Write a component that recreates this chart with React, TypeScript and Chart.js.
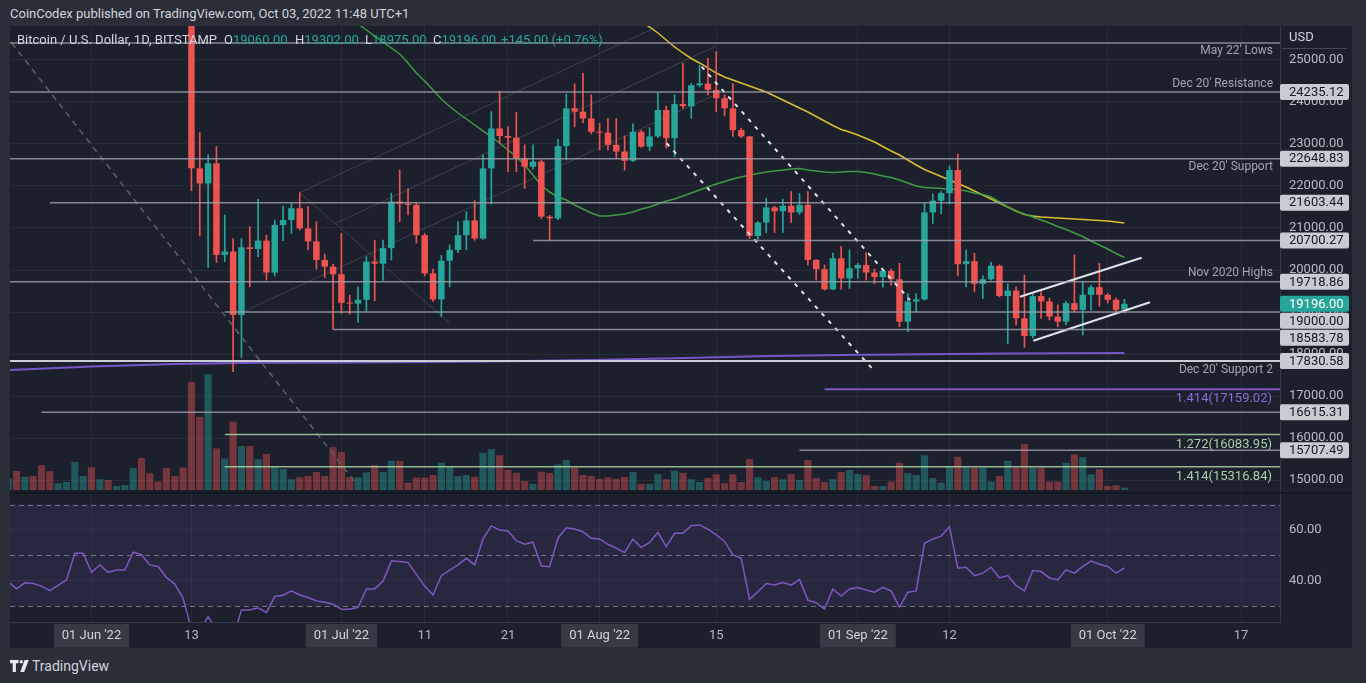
import React, { useEffect, useRef } from 'react';
import { Chart, registerables } from 'chart.js';

Chart.register(...registerables);

// ---------- DATA ----------
// Day index 0 = 01 Jun 2022. First bar = 22 May 2022 (day -10).
const FIRST_DAY = -10;

const OPEN = [
  29190, 30290, 29100, 29650, 29550, 29200, 28600, 28990, 29450, 31730,
  31790, 29800, 30450, 29700, 29860, 29900, 31370, 31130, 30200, 30100,
  29100, 28400, 26600, 22420, 22060, 22540, 20360, 20440, 18930, 20540,
  20500, 20700, 19940, 21070, 21190, 21470, 20990, 20680, 20240, 20080,
  19900, 19220, 19200, 19290, 20200, 20150, 20520, 21630, 21580, 21550,
  20830, 19920, 19300, 20220, 20480, 20830, 21180, 20750, 22420, 23370,
  23190, 23150, 22660, 22460, 22580, 21270, 21230, 22950, 23850, 23770,
  23610, 23290, 23270, 22980, 22820, 22600, 23290, 22940, 23180, 23810,
  23140, 23950, 23900, 24400, 24440, 24290, 24090, 23850, 23330, 23180,
  20810, 21130, 21490, 21400, 21530, 21370, 21550, 20240, 20020, 19540,
  20280, 19800, 20040, 20120, 19940, 19830, 19980, 19780, 18770, 19250,
  19300, 21370, 21650, 21830, 22380, 20140, 20210, 19670, 19780, 20100,
  19380, 19510, 18850, 18430, 19380, 19250, 18890, 18770, 19210, 19050,
  19410, 19590, 19410, 19290, 19060,
];
const HIGH = [
  30480, 30650, 29820, 30200, 29860, 29380, 29030, 29500, 31940, 32380,
  31960, 30630, 30660, 29940, 30160, 31750, 31560, 31330, 30650, 30390,
  29440, 28560, 26880, 23270, 22740, 22940, 21310, 20750, 20750, 21030,
  21680, 20830, 21190, 21520, 21590, 21840, 21510, 21150, 20380, 20140,
  20870, 19400, 19600, 20320, 20710, 20710, 21830, 22380, 21940, 21600,
  20870, 20020, 20350, 20600, 21150, 21390, 21650, 22740, 23770, 24260,
  23410, 23750, 22980, 22980, 22620, 21300, 23110, 24190, 24430, 24680,
  24170, 23490, 23610, 23610, 23190, 23480, 23330, 23390, 24210, 23900,
  24170, 24920, 24440, 24880, 25040, 25200, 24170, 24440, 23380, 23180,
  21150, 21710, 21520, 21690, 21870, 21820, 21870, 20250, 20120, 20400,
  20560, 20480, 20160, 20410, 20020, 20000, 20020, 20160, 19440, 19440,
  21590, 21810, 21870, 22480, 22760, 20480, 20400, 19860, 20180, 20120,
  19670, 19600, 19880, 19440, 19480, 19330, 19170, 19250, 20360, 19720,
  19640, 20160, 19440, 19340, 19302,
];
const LOW = [
  29000, 28870, 28640, 29330, 28020, 28270, 28530, 28840, 29300, 31260,
  29350, 29600, 29310, 29480, 29520, 29890, 29220, 29880, 29960, 28880,
  28160, 26560, 21890, 20810, 20060, 20180, 20200, 17580, 17920, 19600,
  20320, 19760, 19860, 20700, 20870, 20950, 20480, 20020, 19820, 18584,
  18970, 18950, 18750, 19030, 19270, 19750, 20240, 21150, 21310, 20640,
  19860, 19250, 18890, 19600, 20410, 20480, 20710, 20730, 21570, 23020,
  22340, 22340, 21940, 22400, 21230, 20700, 21200, 22620, 23410, 23510,
  23240, 22860, 22860, 22660, 22380, 22580, 22920, 22840, 23150, 22900,
  22700, 23850, 23610, 24360, 24170, 23770, 23670, 23180, 23150, 20750,
  20730, 20890, 20890, 20890, 21130, 21320, 20120, 19760, 19520, 19530,
  19540, 19560, 19800, 19760, 19670, 19590, 19640, 18650, 18530, 19010,
  19280, 21110, 21340, 21570, 19860, 19600, 19480, 19320, 19760, 19360,
  18250, 18690, 18160, 18380, 18850, 18810, 18650, 18690, 19010, 18450,
  19050, 19140, 19210, 18970, 18975,
];
const CLOSE = [
  30290, 29100, 29650, 29550, 29200, 28600, 28990, 29450, 31730, 31790,
  29800, 30450, 29700, 29860, 29900, 31370, 31130, 30200, 30100, 29100,
  28400, 26600, 22420, 22060, 22540, 20360, 20440, 18930, 20540, 20500,
  20700, 19940, 21070, 21190, 21470, 20990, 20680, 20240, 20080, 19900,
  19220, 19200, 19290, 20200, 20150, 20520, 21630, 21580, 21550, 20830,
  19920, 19300, 20220, 20480, 20830, 21180, 20750, 22420, 23370, 23190,
  23150, 22660, 22460, 22580, 21270, 21230, 22950, 23850, 23770, 23610,
  23290, 23270, 22980, 22820, 22600, 23290, 22940, 23180, 23810, 23140,
  23950, 23900, 24400, 24440, 24290, 24090, 23850, 23330, 23180, 20810,
  21130, 21490, 21400, 21530, 21370, 21550, 20240, 20020, 19540, 20280,
  19800, 20040, 20120, 19940, 19830, 19980, 19780, 18770, 19250, 19300,
  21370, 21650, 21830, 22380, 20140, 20210, 19670, 19780, 20100, 19380,
  19510, 18850, 18430, 19380, 19250, 18890, 18770, 19210, 19050, 19410,
  19590, 19410, 19290, 19051, 19196,
];
const VOLUME = [
  2900, 4750, 3300, 3500, 6200, 4700, 1700, 2000, 7000, 3500,
  5700, 2700, 2500, 1000, 1250, 5500, 8000, 4200, 2100, 5500,
  3500, 5600, 27000, 18300, 28900, 10400, 7900, 17100, 11000, 11000,
  7700, 9000, 5700, 5250, 2700, 3200, 3500, 4500, 3500, 10700,
  9500, 3200, 3200, 4400, 6200, 4500, 7300, 7250, 1800, 3100,
  3100, 3750, 6800, 5700, 3500, 3750, 3300, 9300, 10200, 8700,
  5000, 4300, 2250, 1500, 4600, 4250, 6400, 7500, 5600, 3750,
  3500, 2800, 3200, 2750, 3250, 4500, 1500, 1500, 4000, 2700,
  4800, 4250, 2700, 2000, 3000, 3900, 1700, 3900, 2000, 7750,
  3200, 2300, 3200, 2700, 4000, 2500, 7500, 3000, 2000, 2700,
  4500, 5000, 4000, 3700, 1000, 1000, 2100, 6800, 4200, 3750,
  8700, 3000, 1800, 5700, 8300, 5700, 5600, 5600, 2100, 3500,
  7300, 5600, 11500, 5600, 5600, 2100, 2100, 6800, 8900, 8200,
  3900, 5200, 1000, 1200, 600,
];
const RSI = [
  39.7, 36.9, 39.3, 39.0, 38.0, 36.2, 38.3, 40.4, 50.9, 50.9,
  43.4, 46.3, 43.4, 44.3, 44.3, 51.3, 50.3, 46.3, 45.7, 41.4,
  38.8, 33.2, 21.0, 20.5, 26.0, 21.0, 22.0, 17.5, 28.6, 28.6,
  29.5, 27.7, 33.9, 34.4, 36.1, 34.5, 33.5, 32.2, 31.7, 30.9,
  28.9, 28.9, 29.7, 36.9, 36.9, 40.0, 47.8, 47.6, 47.3, 42.6,
  38.0, 34.5, 42.1, 44.3, 46.3, 48.9, 46.3, 56.5, 61.6, 60.0,
  59.6, 55.8, 54.4, 55.2, 45.9, 45.6, 56.8, 60.9, 60.4, 59.3,
  56.8, 56.5, 54.4, 52.9, 51.2, 56.4, 53.1, 55.1, 59.1, 53.5,
  58.7, 58.7, 61.7, 62.0, 60.3, 58.1, 55.5, 50.2, 48.9, 32.8,
  35.8, 39.0, 38.4, 39.4, 38.4, 40.6, 32.5, 31.5, 29.0, 36.9,
  34.1, 36.9, 37.4, 36.5, 35.6, 37.5, 36.1, 29.7, 35.6, 36.1,
  54.8, 56.5, 57.6, 61.3, 45.0, 45.4, 42.1, 43.1, 45.4, 41.2,
  42.1, 38.2, 36.1, 44.1, 43.7, 41.2, 40.5, 44.4, 43.1, 45.7,
  47.8, 46.6, 45.7, 43.1, 45.1,
];
// Green moving average, from day 30 (01 Jul)
const MA_GREEN_START = 30;
const MA_GREEN = [
  26143, 26000, 25857, 25714, 25571, 25429, 25286, 25143, 24929, 24690,
  24500, 24286, 24071, 23893, 23738, 23595, 23452, 23310, 23167, 23024,
  22857, 22702, 22500, 22262, 22012, 21857, 21738, 21667, 21548, 21452,
  21357, 21286, 21286, 21310, 21333, 21381, 21452, 21500, 21571, 21643,
  21690, 21762, 21833, 21905, 21976, 22048, 22107, 22167, 22214, 22262,
  22298, 22333, 22357, 22381, 22405, 22417, 22381, 22357, 22333, 22321,
  22333, 22345, 22345, 22321, 22286, 22238, 22202, 22143, 22071, 22000,
  21964, 21952, 21940, 21929, 21917, 21881, 21833, 21798, 21738, 21619,
  21500, 21393, 21333, 21262, 21190, 21119, 21036, 20964, 20881, 20798,
  20690, 20595, 20500, 20393, 20298,
];
// Yellow moving average, from day 65 (05 Aug)
const MA_YELLOW_START = 65;
const MA_YELLOW = [
  26024, 25905, 25786, 25643, 25476,
  25310, 25167, 25036, 24929, 24810, 24690, 24595, 24524, 24452, 24381,
  24310, 24238, 24143, 24048, 23952, 23857, 23762, 23655, 23548, 23440,
  23345, 23286, 23214, 23131, 23048, 22940, 22833, 22738, 22619, 22500,
  22393, 22310, 22226, 22143, 22060, 21976, 21881, 21786, 21690, 21595,
  21500, 21405, 21321, 21286, 21262, 21250, 21238, 21226, 21214, 21202,
  21190, 21179, 21167, 21143, 21119,
];
// Purple long moving average (read at these days)
const MA_PURPLE_DAYS = [-10, 0, 10, 20, 30, 40, 50, 60, 70, 80, 90, 100, 110, 124];
const MA_PURPLE = [17620, 17700, 17760, 17790, 17800, 17812, 17830, 17860, 17900, 17945, 17975, 17995, 18010, 18024];

// Horizontal levels
const LEVEL_PRICES = [25405, 24235.12, 22648.83, 21603.44, 20700.27, 19718.86, 19000.0, 18583.78, 17830.58, 17159.02, 16615.31, 16083.95, 15707.49, 15316.84];
const LEVEL_START = [-10, -10, -10, -5, 53, -10, 16, 29, -10, 88, -6, 16, 85, 16];
const LEVEL_NOTES = ["May 22' Lows", "Dec 20' Resistance", "Dec 20' Support", '', '', 'Nov 2020 Highs', '', '', "Dec 20' Support 2", '1.414(17159.02)', '', '1.272(16083.95)', '', '1.414(15316.84)'];
const LEVEL_TAGGED = [false, true, true, true, true, true, true, true, true, false, true, false, true, false];

// Trend lines: [day, price] endpoints
const DASH_A = [[73.25, 24841], [98.26, 19286]];
const DASH_B = [[69.05, 23017], [94.06, 17579]];
const CHANNEL_UP = [[111.46, 19364], [126.07, 20293]];
const CHANNEL_LO = [[113.06, 18317], [127.07, 19231]];
const GRAY_DASH = [[-9.58, 25405], [31.63, 14952]];
const FAINT_LINES = [
  [[17.8, 18969], [75, 24184]],
  [[29.4, 21119], [75, 25333]],
  [[25.0, 21841], [75, 26446]],
  [[25.0, 21841], [43.0, 18738]],
];

// Axis ticks
const PRICE_TICKS = [15000, 16000, 17000, 18000, 19000, 20000, 21000, 22000, 23000, 24000, 25000];
const RSI_TICKS = [40, 60];
const TICK_DAYS = [0, 12, 30, 40, 50, 61, 75, 92, 103, 122, 138];
const TICK_LABELS = ["01 Jun '22", '13', "01 Jul '22", '11', '21', "01 Aug '22", '15', "01 Sep '22", '12', "01 Oct '22", '17'];

// ---------- STYLE / LAYOUT ----------
const UP = '#26a69a';
const DOWN = '#ef5350';
const CHART_BG = '#1c202d';
const FRAME_BG = '#2a2e39';
const GRID = 'rgba(255,255,255,0.055)';
const AXIS_LINE = '#363a45';
const FONT = 'Roboto, "Liberation Sans", sans-serif';
const X_MIN = -9.784;
const X_MAX = 142.68;
const P_MIN = 14690.5;
const P_MAX = 25809.5;
const R_MIN = 23.92;
const R_MAX = 74.51;
const V_MIN = -33000;
const V_MAX = 116000;
const LEVEL_KIND = ['line', 'line', 'line', 'line', 'line', 'line', 'line', 'line', 'strong', 'fibPurple', 'line', 'fibGreen', 'line', 'fibGreen'];
const NOTE_OFFSET = [8, -8, 8.5, 0, 0, -8.7, 0, 0, 8.5, 9.3, 0, 10, 0, 10.3];
const KIND_STYLE: any = {
  line: { color: 'rgba(160,163,172,0.8)', width: 1.5, note: '#a3a6af' },
  strong: { color: '#c9ccd3', width: 2, note: '#a3a6af' },
  fibPurple: { color: '#7e57c2', width: 2, note: '#8a6dd6' },
  fibGreen: { color: 'rgba(170,210,170,0.85)', width: 1.5, note: '#a9cfa9' },
};

Chart.defaults.font.family = FONT;

export default function App() {
  const canvasRef = useRef<HTMLCanvasElement | null>(null);
  const last = OPEN.length - 1;
  const chg = CLOSE[last] - CLOSE[last - 1];
  const pct = (chg / CLOSE[last - 1]) * 100;

  useEffect(() => {
    const canvas = canvasRef.current;
    if (!canvas) return;
    const days = OPEN.map((_, i) => FIRST_DAY + i);
    const isUp = OPEN.map((o, i) => CLOSE[i] >= o);
    const candleColors = isUp.map((u) => (u ? UP : DOWN));
    const volColors = isUp.map((u) => (u ? 'rgba(38,166,154,0.42)' : 'rgba(239,83,80,0.42)'));
    const pts = (xs: number[], ys: number[]) => xs.map((x, i) => ({ x, y: ys[i] }));
    const seg = (s: number[][]) => s.map(([x, y]) => ({ x, y }));
    const line = (data: any[], color: string, width: number, extra: any = {}) => ({
      type: 'line',
      data,
      borderColor: color,
      borderWidth: width,
      pointRadius: 0,
      pointHoverRadius: 0,
      fill: false,
      tension: 0,
      yAxisID: 'y',
      order: 2,
      ...extra,
    });

    const datasets: any[] = [];
    datasets.push({
      type: 'bar',
      data: pts(days, VOLUME),
      backgroundColor: volColors,
      yAxisID: 'vol',
      barPercentage: 0.86,
      categoryPercentage: 1,
      grouped: false,
      order: 20,
    });
    FAINT_LINES.forEach((l) => datasets.push(line(seg(l), 'rgba(120,123,134,0.35)', 1, { order: 15 })));
    datasets.push(line(pts(MA_PURPLE_DAYS, MA_PURPLE), '#7458c9', 2, { order: 8 }));
    datasets.push(line(pts(MA_GREEN.map((_, i) => MA_GREEN_START + i), MA_GREEN), '#3f9b43', 1.5, { order: 8 }));
    datasets.push(line(pts(MA_YELLOW.map((_, i) => MA_YELLOW_START + i), MA_YELLOW), '#dcbf2c', 1.5, { order: 8 }));
    datasets.push({
      type: 'bar',
      data: days.map((d, i) => ({ x: d, y: [LOW[i], HIGH[i]] })),
      backgroundColor: candleColors,
      yAxisID: 'y',
      barThickness: 1,
      grouped: false,
      order: 6,
    });
    datasets.push({
      type: 'bar',
      data: days.map((d, i) => ({ x: d, y: [OPEN[i], CLOSE[i]] })),
      backgroundColor: candleColors,
      yAxisID: 'y',
      barPercentage: 0.78,
      categoryPercentage: 1,
      minBarLength: 1,
      grouped: false,
      order: 5,
    });
    LEVEL_PRICES.forEach((p, i) => {
      const st = KIND_STYLE[LEVEL_KIND[i]];
      datasets.push(line([{ x: LEVEL_START[i], y: p }, { x: X_MAX + 1, y: p }], st.color, st.width, { order: 1 }));
    });
    datasets.push(line(seg(GRAY_DASH), '#5d606b', 1.5, { borderDash: [6, 5], order: 1 }));
    datasets.push(line(seg(DASH_A), '#e0e3eb', 2, { borderDash: [4, 6], order: 1 }));
    datasets.push(line(seg(DASH_B), '#e0e3eb', 2, { borderDash: [4, 6], order: 1 }));
    datasets.push(line(seg(CHANNEL_UP), '#e0e3eb', 2, { order: 1 }));
    datasets.push(line(seg(CHANNEL_LO), '#e0e3eb', 2, { order: 1 }));
    datasets.push(line(pts(days, RSI), '#7e57c2', 1.5, { yAxisID: 'rsi', order: 3 }));

    const isMonth = (i: number) => (TICK_LABELS[i] || '').includes("'");

    const panePlugin = {
      id: 'panes',
      beforeDraw(chart: any) {
        const { ctx, width, height } = chart;
        ctx.save();
        ctx.fillStyle = CHART_BG;
        ctx.fillRect(0, 0, width, height);
        ctx.restore();
      },
      beforeDatasetsDraw(chart: any) {
        const { ctx, chartArea } = chart;
        const r = chart.scales.rsi;
        const y70 = r.getPixelForValue(70);
        const y50 = r.getPixelForValue(50);
        const y30 = r.getPixelForValue(30);
        ctx.save();
        ctx.fillStyle = 'rgba(126,87,194,0.12)';
        ctx.fillRect(chartArea.left, y70, chartArea.right - chartArea.left, y30 - y70);
        ctx.strokeStyle = 'rgba(178,181,190,0.55)';
        ctx.lineWidth = 1;
        ctx.setLineDash([5, 4]);
        [y70, y50, y30].forEach((y) => {
          ctx.beginPath();
          ctx.moveTo(chartArea.left, Math.round(y) + 0.5);
          ctx.lineTo(chartArea.right, Math.round(y) + 0.5);
          ctx.stroke();
        });
        ctx.restore();
      },
      afterDatasetsDraw(chart: any) {
        const { ctx, chartArea } = chart;
        const yS = chart.scales.y;
        ctx.save();
        ctx.textAlign = 'right';
        ctx.textBaseline = 'middle';
        LEVEL_PRICES.forEach((p, i) => {
          const note = LEVEL_NOTES[i];
          if (!note) return;
          const kind = LEVEL_KIND[i];
          const fib = kind.startsWith('fib');
          ctx.font = `${fib ? 13 : 12}px ${FONT}`;
          ctx.fillStyle = KIND_STYLE[kind].note;
          ctx.fillText(note, chartArea.right - (fib ? 8 : 7), yS.getPixelForValue(p) + NOTE_OFFSET[i]);
        });
        ctx.restore();
      },
      afterDraw(chart: any) {
        const { ctx, chartArea, width } = chart;
        const yS = chart.scales.y;
        ctx.save();
        // pane separator
        ctx.fillStyle = '#141824';
        ctx.fillRect(0, Math.round(yS.bottom) - 1, width, 2);
        // USD header
        ctx.font = `13px ${FONT}`;
        ctx.textAlign = 'left';
        ctx.textBaseline = 'middle';
        ctx.fillStyle = '#d1d4dc';
        ctx.fillText('USD', chartArea.right + 9, 12);
        ctx.fillStyle = '#434651';
        ctx.fillRect(chartArea.right + 2, 22, 65, 1);
        // price tags
        const tags: any[] = [];
        LEVEL_PRICES.forEach((p, i) => {
          if (LEVEL_TAGGED[i]) tags.push({ text: p.toFixed(2), y: yS.getPixelForValue(p), current: false });
        });
        tags.push({ text: CLOSE[last].toFixed(2), y: yS.getPixelForValue(CLOSE[last]), current: true });
        tags.sort((a, b) => a.y - b.y);
        for (let i = 1; i < tags.length; i++) {
          if (tags[i].y < tags[i - 1].y + 17) tags[i].y = tags[i - 1].y + 17;
        }
        tags.forEach((t) => {
          const x0 = chartArea.right;
          ctx.fillStyle = t.current ? UP : '#c8cbd2';
          ctx.beginPath();
          if (ctx.roundRect) ctx.roundRect(x0, t.y - 8, 69, 16, 2);
          else ctx.rect(x0, t.y - 8, 69, 16);
          ctx.fill();
          ctx.fillStyle = t.current ? '#ffffff' : '#131722';
          ctx.fillText(t.text, x0 + 9, t.y + 0.5);
        });
        ctx.restore();
      },
    };

    const chart = new Chart(canvas, {
      type: 'bar',
      data: { datasets },
      options: {
        animation: false,
        responsive: false,
        devicePixelRatio: 1,
        events: [],
        layout: { padding: 0, autoPadding: false },
        plugins: { legend: { display: false }, tooltip: { enabled: false } },
        scales: {
          x: {
            type: 'linear',
            min: X_MIN,
            max: X_MAX,
            offset: false,
            grid: { color: GRID, drawTicks: false, offset: false },
            border: { color: AXIS_LINE },
            afterBuildTicks: (s: any) => {
              s.ticks = TICK_DAYS.map((v) => ({ value: v }));
            },
            afterFit: (s: any) => {
              s.height = 26;
              s.paddingLeft = 0;
              s.paddingRight = 0;
            },
            ticks: {
              autoSkip: false,
              maxRotation: 0,
              minRotation: 0,
              padding: 6,
              font: { size: 13, family: FONT },
              color: (c: any) => (isMonth(c.index) ? '#d1d4dc' : '#b2b5be'),
              callback: (_v: any, i: number) => TICK_LABELS[i],
              showLabelBackdrop: true,
              backdropColor: (c: any) => (isMonth(c.index) ? '#363a45' : 'rgba(0,0,0,0)'),
              backdropPadding: { top: 4, bottom: 4, left: 8, right: 8 },
            },
          },
          y: {
            type: 'linear',
            axis: 'y',
            position: 'right',
            stack: 'pane',
            stackWeight: 467,
            min: P_MIN,
            max: P_MAX,
            beginAtZero: false,
            grid: { color: GRID, drawTicks: false },
            border: { color: AXIS_LINE },
            afterBuildTicks: (s: any) => {
              s.ticks = PRICE_TICKS.map((v) => ({ value: v }));
            },
            afterFit: (s: any) => {
              s.width = 72;
              s.paddingTop = 0;
              s.paddingBottom = 0;
            },
            ticks: {
              padding: 9,
              font: { size: 13, family: FONT },
              color: '#b7bac2',
              callback: (v: any) => Number(v).toFixed(2),
            },
          },
          rsi: {
            type: 'linear',
            axis: 'y',
            position: 'right',
            stack: 'pane',
            stackWeight: 129,
            min: R_MIN,
            max: R_MAX,
            beginAtZero: false,
            grid: { color: GRID, drawTicks: false },
            border: { color: AXIS_LINE },
            afterBuildTicks: (s: any) => {
              s.ticks = RSI_TICKS.map((v) => ({ value: v }));
            },
            afterFit: (s: any) => {
              s.width = 72;
              s.paddingTop = 0;
              s.paddingBottom = 0;
            },
            ticks: {
              padding: 9,
              font: { size: 13, family: FONT },
              color: '#b7bac2',
              callback: (v: any) => Number(v).toFixed(2),
            },
          },
          vol: {
            type: 'linear',
            axis: 'y',
            position: 'right',
            display: false,
            min: V_MIN,
            max: V_MAX,
            beginAtZero: false,
          },
        },
      } as any,
      plugins: [panePlugin as any],
    } as any);
    return () => chart.destroy();
  }, []);

  const txt = (extra: any) => ({
    position: 'absolute' as const,
    whiteSpace: 'nowrap' as const,
    fontFamily: FONT,
    fontSize: 13,
    lineHeight: '16px',
    ...extra,
  });
  const ohlc = [
    { k: 'O', v: OPEN[last], left: 224 },
    { k: 'H', v: HIGH[last], left: 295 },
    { k: 'L', v: LOW[last], left: 365 },
    { k: 'C', v: CLOSE[last], left: 433 },
  ];

  return (
    <div
      style={{
        position: 'fixed',
        left: 0,
        top: 0,
        width: 1366,
        height: 683,
        background: FRAME_BG,
        overflow: 'hidden',
      }}
    >
      <div style={txt({ left: 10, top: 6, color: '#d1d4dc' })}>
        CoinCodex published on TradingView.com, Oct 03, 2022 11:48 UTC+1
      </div>
      <div style={{ position: 'absolute', left: 10, top: 26, width: 1342, height: 622 }}>
        <canvas ref={canvasRef} width={1342} height={622} style={{ display: 'block', width: 1342, height: 622 }} />
      </div>
      <div style={txt({ left: 17, top: 32, color: '#d1d4dc' })}>Bitcoin / U.S. Dollar, 1D, BITSTAMP</div>
      {ohlc.map((o) => (
        <div key={o.k} style={txt({ left: o.left, top: 32, color: '#d1d4dc' })}>
          {o.k}
          <span style={{ color: UP }}>{o.v.toFixed(2)}</span>
        </div>
      ))}
      <div style={txt({ left: 501, top: 32, color: UP })}>
        {(chg >= 0 ? '+' : '') + chg.toFixed(2)} ({(pct >= 0 ? '+' : '') + pct.toFixed(2)}%)
      </div>
      <svg style={{ position: 'absolute', left: 10, top: 660 }} width={20} height={12} viewBox="0 0 20 12">
        <path d="M0 0h8.5v3.2H5.9V12H2.7V3.2H0z" fill="#e8eaef" />
        <circle cx="11.3" cy="1.7" r="1.7" fill="#e8eaef" />
        <path d="M14.6 0h4.2L14.2 12H10.3z" fill="#e8eaef" />
      </svg>
      <div style={txt({ left: 32, top: 657, fontSize: 14, lineHeight: '18px', color: '#d1d4dc' })}>TradingView</div>
    </div>
  );
}
